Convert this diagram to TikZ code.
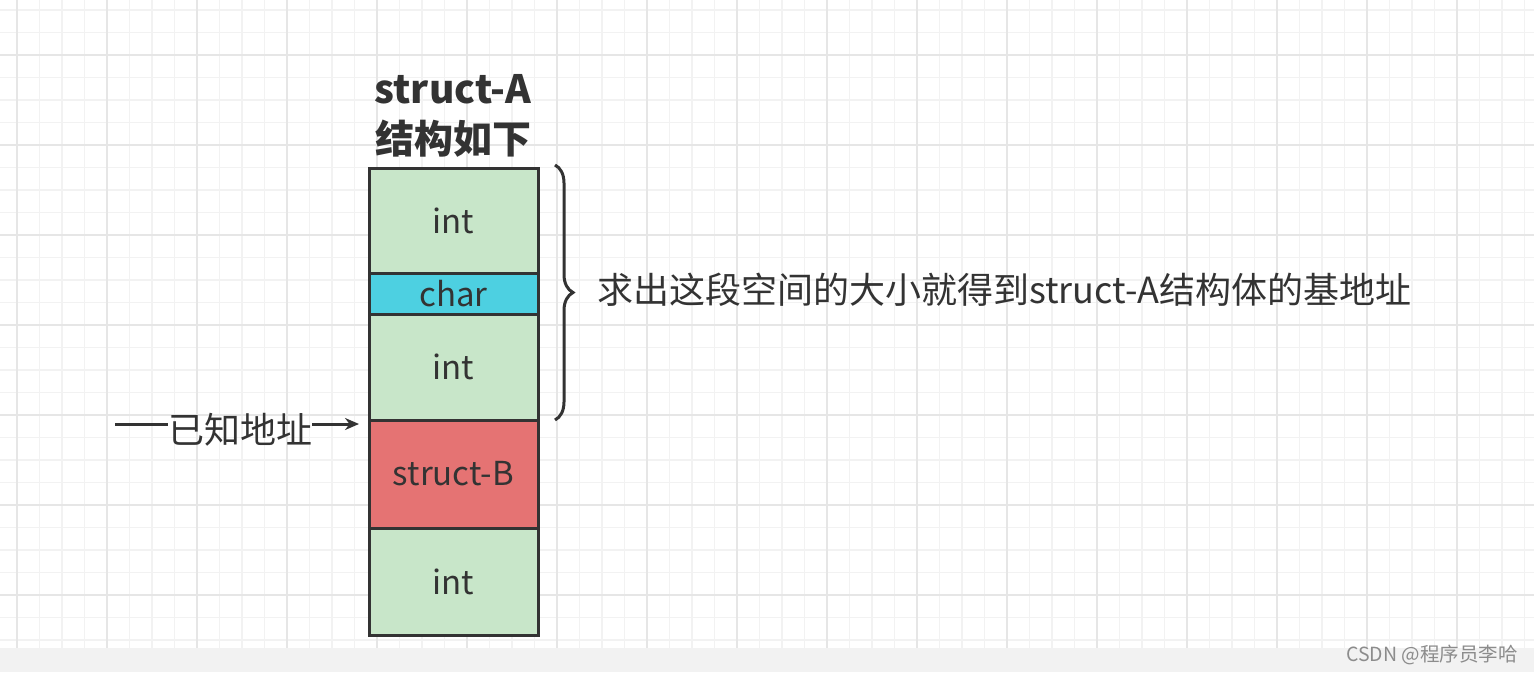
\documentclass[tikz,border=0pt]{standalone}
\usepackage{fontspec}
\setmainfont{Noto Sans CJK SC}
\usetikzlibrary{decorations.pathreplacing,arrows.meta}
\definecolor{gmin}{HTML}{F2F2F2}
\definecolor{gmaj}{HTML}{E6E6E6}
\definecolor{cgreen}{HTML}{C8E6C9}
\definecolor{ccyan}{HTML}{4DD0E1}
\definecolor{cred}{HTML}{E57373}
\definecolor{ink}{HTML}{333333}
\tikzset{cell/.style={draw=ink,line width=3pt},
 lab/.style={text=ink,font=\fontsize{33}{38}\selectfont,inner sep=0pt}}
\begin{document}
\begin{tikzpicture}[x=1pt,y=-1pt]
\useasboundingbox (0,0) rectangle (1534,672);
\fill[white] (0,0) rectangle (1534,672);
\foreach \i in {0,...,68} {\draw[gmin,line width=1.5pt] ({17+22.5*(\i-1)},0) -- ({17+22.5*(\i-1)},648);}
\foreach \i in {0,...,29} {\draw[gmin,line width=1.5pt] (0,{10+22.5*\i}) -- (1534,{10+22.5*\i});}
\foreach \i in {0,...,17} {\draw[gmaj,line width=1.8pt] ({17+90*\i},0) -- ({17+90*\i},648);}
\foreach \i in {0,...,7} {\draw[gmaj,line width=1.8pt] (0,{55+90*\i}) -- (1534,{55+90*\i});}
\fill[gmin] (0,648) rectangle (1534,672);
\node[lab,font=\fontsize{39}{50}\bfseries\selectfont,align=center] (title) at (453,116) {struct-A\\结构如下};
\draw[cell,fill=cgreen] (369,168) rectangle (538,273) node[midway,lab] (i1) {int};
\draw[cell,fill=ccyan] (369,273) rectangle (538,314) node[midway,lab] (c1) {char};
\draw[cell,fill=cgreen] (369,314) rectangle (538,420) node[midway,lab] (i2) {int};
\draw[cell,fill=cred] (369,420) rectangle (538,528) node[midway,lab] (sb) {struct-B};
\draw[cell,fill=cgreen] (369,528) rectangle (538,635) node[midway,lab] (i3) {int};
\coordinate (bt) at (555,165); \coordinate (bb) at (555,420);
\draw[ink,line width=3pt,decorate,decoration={brace,amplitude=18pt}] (bt) -- (bb);
\node[lab,font=\fontsize{36}{42}\selectfont,anchor=west] (desc) at (597,290) {求出这段空间的大小就得到struct-A结构体的基地址};
\node[lab,font=\fontsize{36}{42}\selectfont,anchor=west] (known) at (168,430) {已知地址};
\coordinate (ls) at (115,424);
\coordinate (tip) at (359,424);
\draw[ink,line width=3pt] (ls) -- (known.west |- ls);
\draw[ink,line width=3pt,-{Stealth[length=14pt,width=12pt]}] (known.east |- ls) -- (tip);
\node[text=gray!90,font=\fontsize{19.5}{22}\selectfont,anchor=east,inner sep=0pt] (wm) at (1518,655) {CSDN @程序员李哈};
\end{tikzpicture}
\end{document}
